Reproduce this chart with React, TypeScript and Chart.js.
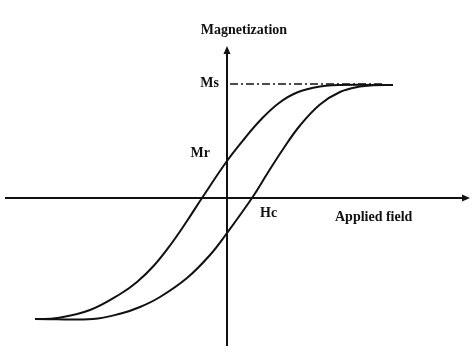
import React, { useEffect, useRef } from 'react';
import { Chart, registerables } from 'chart.js';

Chart.register(...registerables);

// Descending branch (coming down from positive saturation), listed by increasing field
const upperField = [-192, -170, -137, -106, -90, -73, -57, -40, -25, 0, 18, 34, 52, 70, 93, 113, 166];
const upperMag = [-121, -120, -112, -95.5, -84, -67.5, -47.5, -23, 0, 37, 60, 78.5, 95, 105.5, 111.5, 113, 113];

// Ascending branch (going up from negative saturation)
const lowerField = [-192, -134, -106, -87, -67, -40, -17, 0, 25, 40, 56, 73, 93, 113, 133, 146, 166];
const lowerMag = [-121, -121, -115.5, -109, -99, -80, -57, -35, 0, 24, 48.8, 72.5, 93.5, 106, 111.5, 112.7, 113];

// Saturation reference line
const msLineField = [3, 156];
const msLevel = 114;
const mrLevel = 37;
const hcField = 25;

// Texts
const yAxisTitle = 'Magnetization';
const xAxisTitle = 'Applied field';
const msLabel = 'Ms';
const mrLabel = 'Mr';
const hcLabel = 'Hc';

const X_MIN = -221;
const X_MAX = 239;
const Y_MIN = -147;
const Y_MAX = 148;

const INK = '#111';

const annotate = {
  id: 'annotate',
  afterDraw(chart: any) {
    const { ctx, chartArea, scales } = chart;
    const x = scales.x;
    const y = scales.y;
    const x0 = x.getPixelForValue(0);
    const y0 = y.getPixelForValue(0);
    ctx.save();
    ctx.fillStyle = INK;
    // arrow heads
    ctx.beginPath();
    ctx.moveTo(chartArea.right + 4, y0);
    ctx.lineTo(chartArea.right - 4, y0 - 3.5);
    ctx.lineTo(chartArea.right - 4, y0 + 3.5);
    ctx.closePath();
    ctx.fill();
    ctx.beginPath();
    ctx.moveTo(x0, chartArea.top - 4);
    ctx.lineTo(x0 - 3.5, chartArea.top + 4);
    ctx.lineTo(x0 + 3.5, chartArea.top + 4);
    ctx.closePath();
    ctx.fill();
    // texts
    ctx.font = 'bold 14px "Liberation Serif", serif';
    ctx.textBaseline = 'alphabetic';
    ctx.textAlign = 'center';
    ctx.fillText(yAxisTitle, x0 + 17, chartArea.top - 16);
    ctx.textAlign = 'left';
    ctx.fillText(xAxisTitle, x0 + 108, y0 + 23);
    ctx.fillText(hcLabel, x.getPixelForValue(hcField) + 8, y0 + 19);
    ctx.textAlign = 'right';
    ctx.fillText(msLabel, x0 - 8, y.getPixelForValue(msLevel) + 3);
    ctx.fillText(mrLabel, x0 - 17, y.getPixelForValue(mrLevel) - 4);
    ctx.restore();
  },
};

const whiteBg = {
  id: 'whiteBg',
  beforeDraw(chart: any) {
    const { ctx, width, height } = chart;
    ctx.save();
    ctx.fillStyle = '#fff';
    ctx.fillRect(0, 0, width, height);
    ctx.restore();
  },
};

export default function App() {
  const ref = useRef<HTMLCanvasElement | null>(null);

  useEffect(() => {
    if (!ref.current) return;
    const toPts = (xs: number[], ys: number[]) => xs.map((v, i) => ({ x: v, y: ys[i] }));
    const chart = new Chart(ref.current, {
      type: 'line',
      data: {
        datasets: [
          {
            label: 'Ms',
            data: msLineField.map((v) => ({ x: v, y: msLevel })),
            borderColor: INK,
            borderWidth: 1.3,
            borderDash: [8, 3, 2, 3],
            pointRadius: 0,
            fill: false,
          },
          {
            label: 'descending',
            data: toPts(upperField, upperMag),
            borderColor: INK,
            borderWidth: 2,
            pointRadius: 0,
            tension: 0.4,
            fill: false,
          },
          {
            label: 'ascending',
            data: toPts(lowerField, lowerMag),
            borderColor: INK,
            borderWidth: 2,
            pointRadius: 0,
            tension: 0.4,
            fill: false,
          },
        ],
      },
      options: {
        animation: false,
        responsive: false,
        devicePixelRatio: 1,
        layout: { padding: { left: 6, right: 8, top: 50, bottom: 8 } },
        plugins: {
          legend: { display: false },
          tooltip: { enabled: false },
          title: { display: false },
        },
        scales: {
          x: {
            type: 'linear',
            min: X_MIN,
            max: X_MAX,
            position: { y: 0 },
            grid: { display: false, drawTicks: false },
            border: { display: true, color: INK, width: 2 },
            ticks: { display: false },
          },
          y: {
            type: 'linear',
            min: Y_MIN,
            max: Y_MAX,
            position: { x: 0 },
            grid: { display: false, drawTicks: false },
            border: { display: true, color: INK, width: 2 },
            ticks: { display: false },
          },
        },
      } as any,
      plugins: [whiteBg, annotate],
    });
    return () => chart.destroy();
  }, []);

  return (
    <div style={{ position: 'absolute', left: 0, top: 0, width: 474, height: 353, background: '#fff' }}>
      <canvas ref={ref} width={474} height={353} style={{ display: 'block' }} />
    </div>
  );
}
